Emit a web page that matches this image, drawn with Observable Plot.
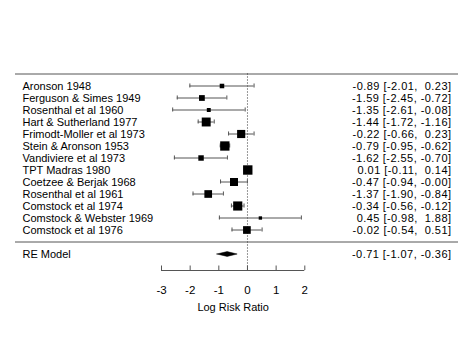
<!DOCTYPE html>
<html>
<head>
<meta charset="utf-8">
<script src="https://cdn.jsdelivr.net/npm/d3@7"></script>
<script src="https://cdn.jsdelivr.net/npm/@observablehq/plot@0.6"></script>
<style>
  html, body { margin: 0; padding: 0; background: #fff; }
  svg text { white-space: pre; }
</style>
</head>
<body>
<div id="chart"></div>
<script>
// ---- data ----
const studies = ["Aronson 1948", "Ferguson & Simes 1949", "Rosenthal et al 1960", "Hart & Sutherland 1977",
  "Frimodt-Moller et al 1973", "Stein & Aronson 1953", "Vandiviere et al 1973", "TPT Madras 1980",
  "Coetzee & Berjak 1968", "Rosenthal et al 1961", "Comstock et al 1974", "Comstock & Webster 1969",
  "Comstock et al 1976"];
const estimates = [-0.89, -1.59, -1.35, -1.44, -0.22, -0.79, -1.62, 0.01, -0.47, -1.37, -0.34, 0.45, -0.02];
const lower = [-2.01, -2.45, -2.61, -1.72, -0.66, -0.95, -2.55, -0.11, -0.94, -1.90, -0.56, -0.98, -0.54];
const upper = [0.23, -0.72, -0.08, -1.16, 0.23, -0.62, -0.70, 0.14, -0.004, -0.84, -0.12, 1.88, 0.51];
const weights = [5.06, 6.36, 4.44, 9.70, 8.87, 10.10, 6.03, 10.19, 8.74, 8.37, 9.93, 3.82, 8.40];
const summaryLabel = "RE Model";
const summary = {est: -0.71, lo: -1.07, hi: -0.36};
const xTicks = [-3, -2, -1, 0, 1, 2];
const xLabel = "Log Risk Ratio";

// ---- layout ----
const k = studies.length;
const topRow = k + 1;       // header rule
const axisRow = -2.375;     // axis position (row units)
const rows = studies.map((s, i) => ({
  name: s, row: k - i, est: estimates[i], lo: lower[i], hi: upper[i], w: weights[i]
}));
const fmt = v => (v.toFixed(2).startsWith("-") ? "" : " ") + v.toFixed(2);
const ciText = d => `${fmt(d.est)} [${fmt(d.lo)}, ${fmt(d.hi)}]`;
const sumRow = {name: summaryLabel, row: -1, ...summary};
const dh = 0.2;
const diamond = [
  {x: summary.lo, y: -1}, {x: summary.est, y: -1 + dh}, {x: summary.hi, y: -1},
  {x: summary.est, y: -1 - dh}, {x: summary.lo, y: -1}
];
const capH = 0.17;
const gray = "#555";
const font = "Liberation Sans, Arial, sans-serif";

const marginTop = 73.5, marginBottom = 68;

const chart = Plot.plot({
  width: 474,
  height: 338,
  marginLeft: 15,
  marginRight: 16,
  marginTop,
  marginBottom,
  style: {fontFamily: font, fontSize: "11px", color: "#000", background: "#fff"},
  x: {domain: [xTicks[0], xTicks[xTicks.length - 1]], range: [161, 304.3]},
  y: {domain: [axisRow, topRow], axis: null},
  r: {type: "linear", domain: [d3.min(weights), d3.max(weights)], range: [1.9, 5.3]},
  marks: [
    Plot.ruleY([topRow, 0], {stroke: gray, strokeWidth: 1}),
    Plot.ruleX([0], {y1: topRow, y2: axisRow, stroke: "#333", strokeDasharray: "1,2"}),
    // axis
    Plot.ruleY([axisRow], {x1: xTicks[0], x2: xTicks[xTicks.length - 1], stroke: gray}),
    Plot.ruleX(xTicks, {stroke: gray, insetTop: (338 - marginTop - marginBottom) - 4.5}),
    Plot.axisX({ticks: xTicks, tickSize: 0, tickPadding: 15.5, tickFormat: d => String(d), label: null, fontSize: 11.5}),
    Plot.text([xLabel], {x: d3.mean([xTicks[0], xTicks[xTicks.length - 1]]), frameAnchor: "bottom", dy: 40.5, fontSize: 11}),
    // CIs
    Plot.ruleY(rows, {y: "row", x1: "lo", x2: "hi", stroke: gray}),
    Plot.ruleX(rows, {x: "lo", y1: d => d.row - capH, y2: d => d.row + capH, stroke: gray}),
    Plot.ruleX(rows, {x: "hi", y1: d => d.row - capH, y2: d => d.row + capH, stroke: gray}),
    Plot.dot(rows, {x: "est", y: "row", r: "w", symbol: "square", fill: "#000", stroke: null}),
    // summary diamond
    Plot.line(diamond, {x: "x", y: "y", fill: "#000", stroke: "#000", strokeWidth: 0.5}),
    // labels
    Plot.text([...rows, sumRow], {y: "row", text: "name", frameAnchor: "left", textAnchor: "start", dx: 7, fill: "#000"}),
    Plot.text([...rows, sumRow], {y: "row", text: ciText, frameAnchor: "right", textAnchor: "end", dx: -7, fill: "#000", fontSize: 11})
  ]
});
// widen the annotation column slightly (reference uses wider digit advances)
const textGroups = chart.querySelectorAll('g[aria-label="text"]');
textGroups[textGroups.length - 1].setAttribute("letter-spacing", "0.45");
document.getElementById("chart").appendChild(chart);
</script>
</body>
</html>
